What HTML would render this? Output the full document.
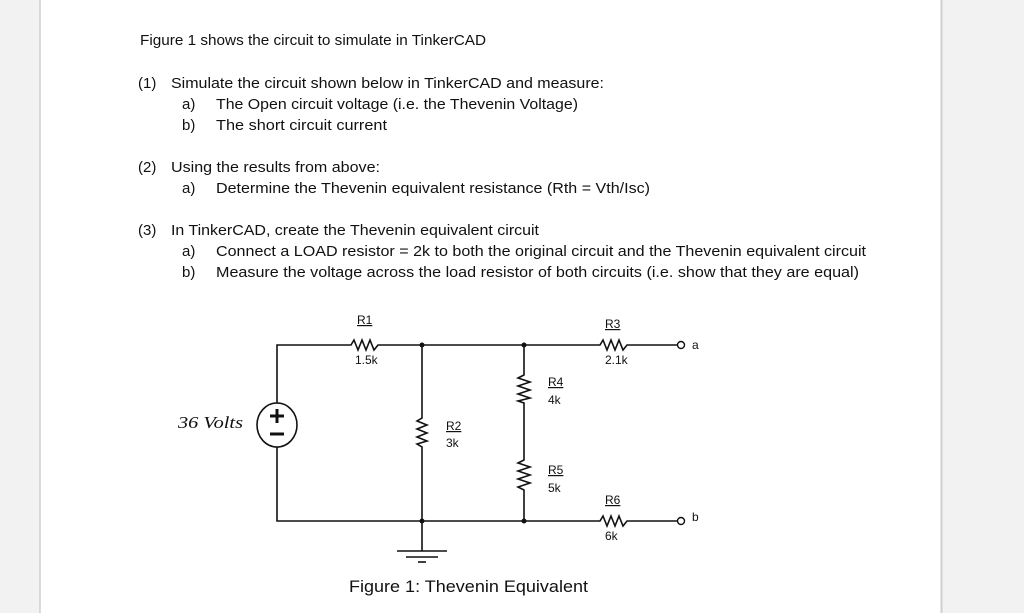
<!DOCTYPE html>
<html><head><meta charset="utf-8"><style>
html,body{margin:0;padding:0;width:1024px;height:613px;overflow:hidden;background:#f2f2f2}
svg{display:block}
</style></head><body>
<svg width="1024" height="613" viewBox="0 0 1024 613" xmlns="http://www.w3.org/2000/svg">
<rect x="0" y="0" width="1024" height="613" fill="#f2f2f2"/>
<rect x="40" y="0" width="901" height="613" fill="#fff"/>
<line x1="40" y1="0" x2="40" y2="613" stroke="#cfcfcf" stroke-width="1.5"/>
<line x1="941.5" y1="0" x2="941.5" y2="613" stroke="#cfcfcf" stroke-width="2"/>
<g font-family="Liberation Sans, sans-serif" font-size="15" fill="#111">
<text x="140" y="45" textLength="346" lengthAdjust="spacingAndGlyphs">Figure 1 shows the circuit to simulate in TinkerCAD</text>
<text x="138" y="88">(1)</text>
<text x="171" y="88" textLength="433" lengthAdjust="spacingAndGlyphs">Simulate the circuit shown below in TinkerCAD and measure:</text>
<text x="182" y="109">a)</text>
<text x="216" y="109" textLength="362" lengthAdjust="spacingAndGlyphs">The Open circuit voltage (i.e. the Thevenin Voltage)</text>
<text x="182" y="130">b)</text>
<text x="216" y="130" textLength="171" lengthAdjust="spacingAndGlyphs">The short circuit current</text>
<text x="138" y="172">(2)</text>
<text x="171" y="172" textLength="209" lengthAdjust="spacingAndGlyphs">Using the results from above:</text>
<text x="182" y="193">a)</text>
<text x="216" y="193" textLength="434" lengthAdjust="spacingAndGlyphs">Determine the Thevenin equivalent resistance (Rth = Vth/Isc)</text>
<text x="138" y="235">(3)</text>
<text x="171" y="235" textLength="368" lengthAdjust="spacingAndGlyphs">In TinkerCAD, create the Thevenin equivalent circuit</text>
<text x="182" y="256">a)</text>
<text x="216" y="256" textLength="650" lengthAdjust="spacingAndGlyphs">Connect a LOAD resistor = 2k to both the original circuit and the Thevenin equivalent circuit</text>
<text x="182" y="277">b)</text>
<text x="216" y="277" textLength="643" lengthAdjust="spacingAndGlyphs">Measure the voltage across the load resistor of both circuits (i.e. show that they are equal)</text>
<text x="349" y="592" font-size="17" textLength="239" lengthAdjust="spacingAndGlyphs">Figure 1: Thevenin Equivalent</text>
<text x="178" y="428" font-family="Liberation Serif, serif" font-size="17" font-style="italic" textLength="65" lengthAdjust="spacingAndGlyphs">36 Volts</text>
</g>
<g fill="none" stroke="#111" stroke-width="1.6" stroke-linejoin="miter">
<polyline points="277,403 277,345 351,345 354,340 358,350 362,340 366,350 370,340 374,350 378,345 600,345 603,340 607,350 611,340 615,350 619,340 623,350 627,345 677,345"/>
<polyline points="277,447 277,521 600,521 603,516 607,526 611,516 615,526 619,516 623,526 627,521 677,521"/>
<polyline points="422,345 422,418 417,421 427,425 417,429 427,433 417,437 427,441 417,444 422,447 422,551"/>
<polyline points="524,345 524,375 518,378 530,382 518,386 530,390 518,394 530,398 518,401 524,403 524,460 518,463 530,467 518,471 530,475 518,479 530,483 518,487 524,490 524,521"/>
<line x1="397" y1="551" x2="447" y2="551"/>
<line x1="406" y1="557" x2="438" y2="557"/>
<line x1="418" y1="562" x2="426" y2="562"/>
<ellipse cx="277" cy="425" rx="20" ry="22"/>
<circle cx="681" cy="345" r="3.5" stroke-width="1.4" fill="#fff"/>
<circle cx="681" cy="521" r="3.5" stroke-width="1.4" fill="#fff"/>
</g>
<g stroke="#111" stroke-width="3">
<line x1="270" y1="416" x2="284" y2="416"/><line x1="277" y1="409" x2="277" y2="423"/>
<line x1="270" y1="434" x2="284" y2="434"/>
</g>
<g fill="#111">
<circle cx="422" cy="345" r="2.5"/><circle cx="524" cy="345" r="2.5"/>
<circle cx="422" cy="521" r="2.5"/><circle cx="524" cy="521" r="2.5"/>
</g>
<g font-family="Liberation Sans, sans-serif" font-size="12" fill="#111">
<text x="357" y="324" text-decoration="underline">R1</text>
<text x="355" y="364">1.5k</text>
<text x="605" y="328" text-decoration="underline">R3</text>
<text x="605" y="364">2.1k</text>
<text x="692" y="349">a</text>
<text x="692" y="521">b</text>
<text x="548" y="386" text-decoration="underline">R4</text>
<text x="548" y="404">4k</text>
<text x="446" y="430" text-decoration="underline">R2</text>
<text x="446" y="447">3k</text>
<text x="548" y="474" text-decoration="underline">R5</text>
<text x="548" y="492">5k</text>
<text x="605" y="504" text-decoration="underline">R6</text>
<text x="605" y="540">6k</text>
</g>
</svg>
</body></html>
